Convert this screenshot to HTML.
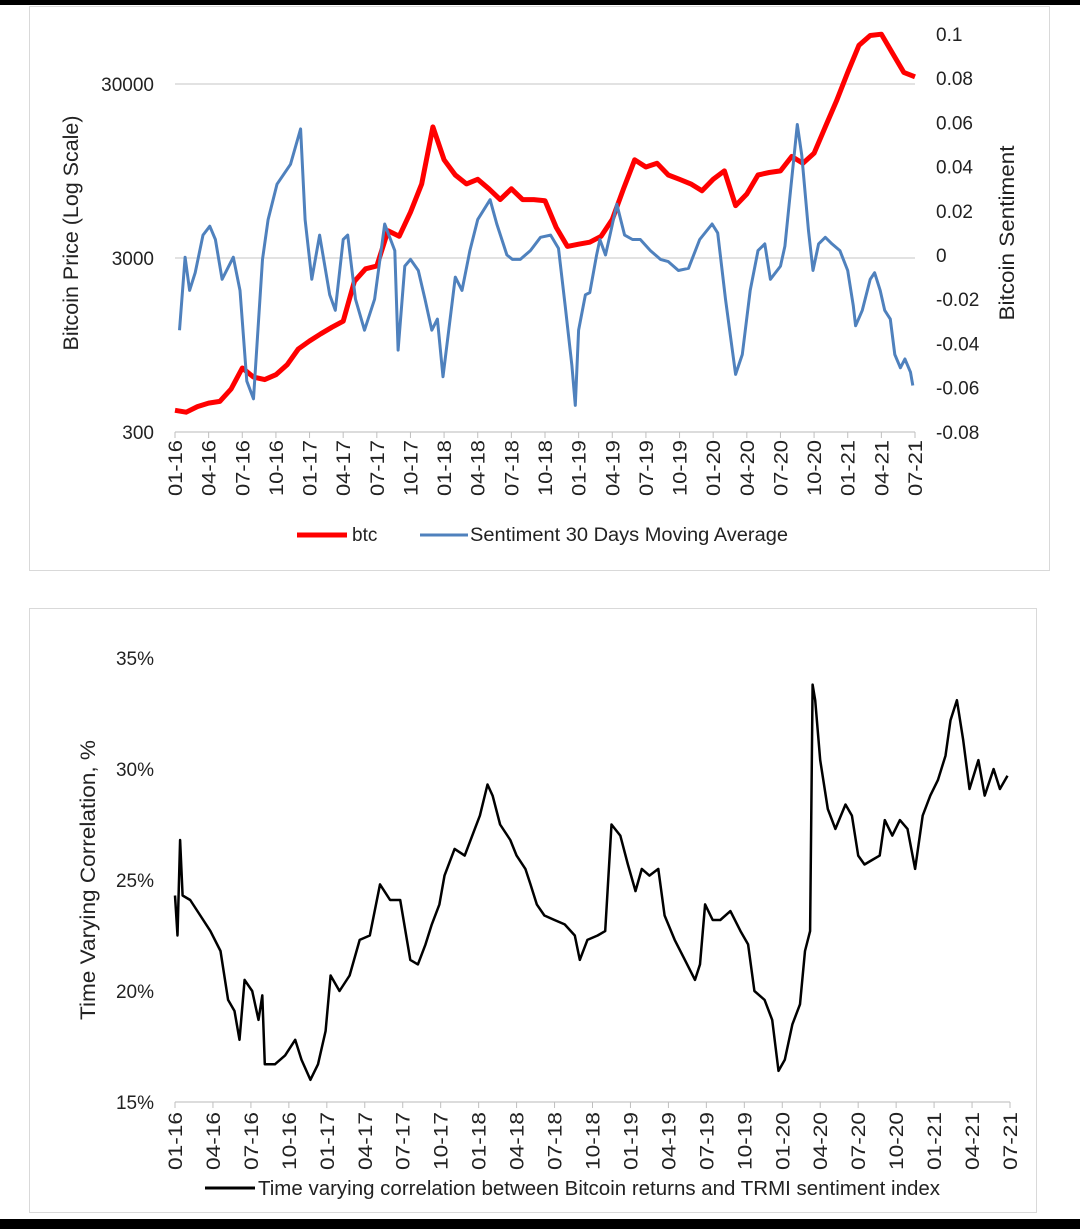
<!DOCTYPE html>
<html><head><meta charset="utf-8"><style>
html,body{margin:0;padding:0;background:#fff;}
svg{display:block;font-family:"Liberation Sans",sans-serif;}
</style></head><body>
<svg id="c" width="1080" height="1229" viewBox="0 0 1080 1229" xmlns="http://www.w3.org/2000/svg">
<rect x="0" y="0" width="1080" height="5" fill="#000"/>
<rect x="0" y="1219" width="1080" height="10" fill="#000"/>
<rect x="29.5" y="6.5" width="1020" height="564" fill="#fff" stroke="#d9d9d9"/>
<rect x="29.5" y="608.5" width="1007" height="604" fill="#fff" stroke="#d9d9d9"/>
<g id="g1"></g>
<g id="g2"></g>
</svg>
<script>
const xLabels=["01-16","04-16","07-16","10-16","01-17","04-17","07-17","10-17","01-18","04-18","07-18","10-18","01-19","04-19","07-19","10-19","01-20","04-20","07-20","10-20","01-21","04-21","07-21"];
const btcPrice=[400,390,420,440,450,530,700,620,600,640,730,900,1000,1100,1200,1300,2200,2600,2700,4300,4000,5500,8000,17000,11000,9000,8000,8500,7500,6500,7500,6500,6500,6400,4500,3500,3600,3700,4000,5000,7500,11000,10000,10500,9000,8500,8000,7300,8500,9500,6000,7000,9000,9300,9500,11500,10500,12000,17000,24000,35000,50000,57000,58000,45000,35000,33000];
const sentMonths=[0.4,0.9,1.3,1.8,2.5,3.1,3.6,4.2,5.2,5.8,6.4,7.0,7.8,8.3,9.1,10.3,11.2,11.6,12.2,12.9,13.8,14.3,15.0,15.4,16.1,16.9,17.8,18.7,19.6,19.9,20.5,21.0,21.7,22.3,22.9,23.4,23.9,25.0,25.6,26.3,27.0,28.1,28.7,29.6,30.1,30.8,31.7,32.6,33.5,34.2,34.8,35.4,35.7,36.0,36.6,37.0,37.6,37.9,38.4,38.8,39.4,40.1,40.8,41.5,42.4,43.3,44.0,44.9,45.8,46.8,47.9,48.4,49.1,50.0,50.6,51.3,52.0,52.6,53.1,54.0,54.4,54.9,55.5,55.9,56.5,56.9,57.4,58.0,58.6,59.3,60.0,60.5,60.7,61.3,62.0,62.4,62.9,63.3,63.8,64.2,64.7,65.1,65.6,65.8];
const sentValues=[-0.034,-0.001,-0.016,-0.008,0.009,0.013,0.007,-0.011,-0.001,-0.016,-0.057,-0.065,-0.002,0.016,0.032,0.041,0.057,0.016,-0.011,0.009,-0.018,-0.025,0.007,0.009,-0.020,-0.034,-0.020,0.014,0.002,-0.043,-0.005,-0.002,-0.007,-0.020,-0.034,-0.029,-0.055,-0.010,-0.016,0.002,0.016,0.025,0.014,0,-0.002,-0.002,0.002,0.008,0.009,0.003,-0.023,-0.050,-0.068,-0.034,-0.018,-0.017,0,0.007,0,0.009,0.023,0.009,0.007,0.007,0.002,-0.002,-0.003,-0.007,-0.006,0.007,0.014,0.010,-0.020,-0.054,-0.045,-0.016,0.002,0.005,-0.011,-0.005,0.004,0.029,0.059,0.045,0.011,-0.007,0.005,0.008,0.005,0.002,-0.007,-0.023,-0.032,-0.025,-0.011,-0.008,-0.016,-0.025,-0.029,-0.045,-0.051,-0.047,-0.053,-0.059];
const leftTicks=[300,3000,30000];
const rightTicks=[-0.08,-0.06,-0.04,-0.02,0,0.02,0.04,0.06,0.08,0.1];
const corrMonths=[0,0.2,0.4,0.6,1.2,2.0,2.8,3.6,4.2,4.7,5.1,5.5,6.1,6.6,6.9,7.1,7.9,8.7,9.5,10.0,10.7,11.3,11.9,12.3,13.0,13.8,14.6,15.4,16.2,17.0,17.8,18.6,19.2,19.8,20.3,20.9,21.3,22.1,22.9,23.7,24.1,24.7,25.1,25.7,26.5,27.0,27.7,28.1,28.6,29.2,30.0,30.8,31.6,32.0,32.6,33.4,34.0,34.5,35.2,35.8,36.4,36.9,37.5,38.2,38.7,39.5,40.3,41.1,41.5,41.9,42.5,43.1,43.9,44.7,45.3,45.8,46.6,47.2,47.7,48.2,48.8,49.4,49.8,50.2,50.4,50.6,51.0,51.6,52.2,53.0,53.5,54.0,54.5,55.1,55.7,56.1,56.7,57.3,57.9,58.5,59.1,59.7,60.3,60.9,61.3,61.8,62.3,62.8,63.5,64.0,64.7,65.2,65.8];
const corrValues=[24.3,22.5,26.8,24.3,24.1,23.4,22.7,21.8,19.6,19.1,17.8,20.5,20.0,18.7,19.8,16.7,16.7,17.1,17.8,16.9,16.0,16.7,18.2,20.7,20.0,20.7,22.3,22.5,24.8,24.1,24.1,21.4,21.2,22.1,23.0,23.9,25.2,26.4,26.1,27.3,27.9,29.3,28.8,27.5,26.8,26.1,25.5,24.8,23.9,23.4,23.2,23.0,22.5,21.4,22.3,22.5,22.7,27.5,27.0,25.7,24.5,25.5,25.2,25.5,23.4,22.3,21.4,20.5,21.2,23.9,23.2,23.2,23.6,22.7,22.1,20.0,19.6,18.7,16.4,16.9,18.5,19.4,21.8,22.7,33.8,33.1,30.4,28.2,27.3,28.4,27.9,26.1,25.7,25.9,26.1,27.7,27.0,27.7,27.3,25.5,27.9,28.8,29.5,30.6,32.2,33.1,31.3,29.1,30.4,28.8,30.0,29.1,29.7];
const corrTicks=[15,20,25,30,35];

const NS="http://www.w3.org/2000/svg";
function mk(p,tag,a,txt){const e=document.createElementNS(NS,tag);for(const k in a)e.setAttribute(k,a[k]);if(txt!==undefined)e.textContent=txt;p.appendChild(e);return e;}
const g1=document.getElementById('g1'),g2=document.getElementById('g2');

// chart 1 scales
const X1=m=>175+m*(740/66);
const YL=v=>432-(Math.log10(v)-Math.log10(300))*174;
const YR=v=>255-v*2212;
leftTicks.forEach(t=>{
  let l=mk(g1,'line',{x1:175,x2:915,y1:YL(t),y2:YL(t),stroke:t===300?'#d0d0d0':'#d9d9d9','stroke-width':1.5});
  
  
  let tx=mk(g1,'text',{x:154,y:YL(t)+7,'text-anchor':'end','font-size':19,fill:'#222'},String(t));
  
  
});
rightTicks.forEach(t=>{
  let tx=mk(g1,'text',{x:936,y:YR(t)+7,'font-size':19,fill:'#222'},String(t));
  
  
});
xLabels.forEach((s,i)=>{
  const x=X1(i*3);
  mk(g1,'line',{x1:x,x2:x,y1:432,y2:438,stroke:'#bfbfbf'});
  let tx=mk(g1,'text',{transform:`translate(${x+7},440) rotate(-90)`,'text-anchor':'end','font-size':19,textLength:56,lengthAdjust:'spacingAndGlyphs',fill:'#222'},s);
  
  
});
let yt=mk(g1,'text',{transform:'translate(78,233) rotate(-90)','text-anchor':'middle','font-size':21,textLength:235,lengthAdjust:'spacingAndGlyphs',fill:'#222'},'Bitcoin Price (Log Scale)');


let yt2=mk(g1,'text',{transform:'translate(1014,233) rotate(-90)','text-anchor':'middle','font-size':21,textLength:175,lengthAdjust:'spacingAndGlyphs',fill:'#222'},'Bitcoin Sentiment');


let pb=btcPrice.map((v,i)=>X1(i).toFixed(1)+','+YL(v).toFixed(1)).join(' ');
let btcLine=mk(g1,'polyline',{points:pb,fill:'none',stroke:'#ff0000','stroke-width':5,'stroke-linejoin':'round'});


let ps=sentValues.map((v,i)=>X1(sentMonths[i]).toFixed(1)+','+YR(v).toFixed(1)).join(' ');
let sLine=mk(g1,'polyline',{points:ps,fill:'none',stroke:'#4f81bd','stroke-width':3,'stroke-linejoin':'round'});


let le1=mk(g1,'g',{});


mk(le1,'line',{x1:297,x2:347,y1:535,y2:535,stroke:'#ff0000','stroke-width':5});
mk(le1,'text',{x:352,y:541,'font-size':19,fill:'#222'},'btc');
let le2=mk(g1,'g',{});


mk(le2,'line',{x1:420,x2:468,y1:535,y2:535,stroke:'#4f81bd','stroke-width':3});
mk(le2,'text',{x:470,y:541,'font-size':19,textLength:318,lengthAdjust:'spacingAndGlyphs',fill:'#222'},'Sentiment 30 Days Moving Average');

// chart 2
const X2=m=>175+m*(835/66);
const Y2=v=>1102-(v-15)*22.2;
mk(g2,'line',{x1:175,x2:1010,y1:1102,y2:1102,stroke:'#d0d0d0','stroke-width':1.5});
corrTicks.forEach(t=>{
  let tx=mk(g2,'text',{x:154,y:Y2(t)+7,'text-anchor':'end','font-size':19,fill:'#222'},t+'%');
  
  
});
xLabels.forEach((s,i)=>{
  const x=X2(i*3);
  mk(g2,'line',{x1:x,x2:x,y1:1102,y2:1108,stroke:'#bfbfbf'});
  let tx=mk(g2,'text',{transform:`translate(${x+7},1112) rotate(-90)`,'text-anchor':'end','font-size':19,textLength:58,lengthAdjust:'spacingAndGlyphs',fill:'#222'},s);
  
  
});
let yt3=mk(g2,'text',{transform:'translate(95,880) rotate(-90)','text-anchor':'middle','font-size':21,textLength:280,lengthAdjust:'spacingAndGlyphs',fill:'#222'},'Time Varying Correlation, %');


let pc=corrValues.map((v,i)=>X2(corrMonths[i]).toFixed(1)+','+Y2(v).toFixed(1)).join(' ');
let cLine=mk(g2,'polyline',{points:pc,fill:'none',stroke:'#000','stroke-width':2.5,'stroke-linejoin':'round'});


let le3=mk(g2,'g',{});


mk(le3,'line',{x1:205,x2:255,y1:1188,y2:1188,stroke:'#000','stroke-width':3});
mk(le3,'text',{x:258,y:1195,'font-size':20,textLength:682,lengthAdjust:'spacingAndGlyphs',fill:'#222'},'Time varying correlation between Bitcoin returns and TRMI sentiment index');
</script>
</body></html>
